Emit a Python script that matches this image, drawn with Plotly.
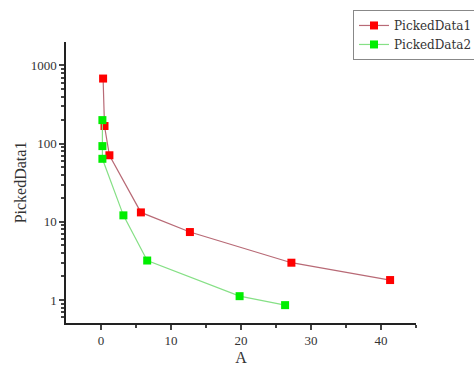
import plotly.graph_objects as go

x1 = [0.3, 0.5, 1.2, 5.7, 12.7, 27.2, 41.3]
y1 = [680, 168, 71, 13.2, 7.4, 3.0, 1.8]
x2 = [0.2, 0.2, 0.2, 3.2, 6.6, 19.8, 26.3]
y2 = [200, 93, 64, 12.1, 3.2, 1.12, 0.86]
name1 = "PickedData1"
name2 = "PickedData2"
ytick_vals = [1, 10, 100, 1000]
xtick_vals = [0, 10, 20, 30, 40]

minor_y = [m * 10 ** d for d in range(-1, 4) for m in range(2, 10)]
minor_y = [v for v in minor_y if 0.5 <= v <= 2000]

font = "Liberation Serif"
fig = go.Figure()
fig.add_trace(go.Scatter(x=x1, y=y1, mode="lines+markers", name=name1,
                         line=dict(color="#b86a76", width=1.2),
                         marker=dict(symbol="square", size=8, color="#ff0000")))
fig.add_trace(go.Scatter(x=x2, y=y2, mode="lines+markers", name=name2,
                         line=dict(color="#86e086", width=1.2),
                         marker=dict(symbol="square", size=8, color="#00ee00")))
fig.update_layout(
    width=474, height=366, paper_bgcolor="white", plot_bgcolor="white",
    margin=dict(l=66, r=58, t=42, b=43, autoexpand=False),
    font=dict(family=font, size=13, color="#333"),
    legend=dict(x=0.82, y=1.114, xanchor="left", yanchor="top",
                bordercolor="#888", borderwidth=1, bgcolor="white",
                font=dict(family="DejaVu Serif", size=12), tracegroupgap=0, itemwidth=30),
    xaxis=dict(range=[-5, 45], showline=True, linecolor="#222", linewidth=1.5,
               ticks="outside", ticklen=5, tickwidth=1.5, tickvals=xtick_vals,
               minor=dict(ticks="outside", ticklen=3, tickvals=[5, 15, 25, 35, 45]),
               showgrid=False, zeroline=False, automargin=False,
               title=dict(text="A", font=dict(size=16), standoff=8)),
    yaxis=dict(type="log", range=[-0.294, 3.3], showline=True, linecolor="#222", linewidth=1.5,
               ticks="outside", ticklen=5, tickwidth=1.5, tickvals=ytick_vals,
               minor=dict(ticks="outside", ticklen=3, tickvals=minor_y, showgrid=False),
               showgrid=False, zeroline=False, automargin=True,
               title=dict(text="PickedData1", font=dict(size=16), standoff=0)),
    showlegend=True,
)
fig.write_html("out.html", config={"displayModeBar": False},
               post_script="document.body.style.margin='0';")
